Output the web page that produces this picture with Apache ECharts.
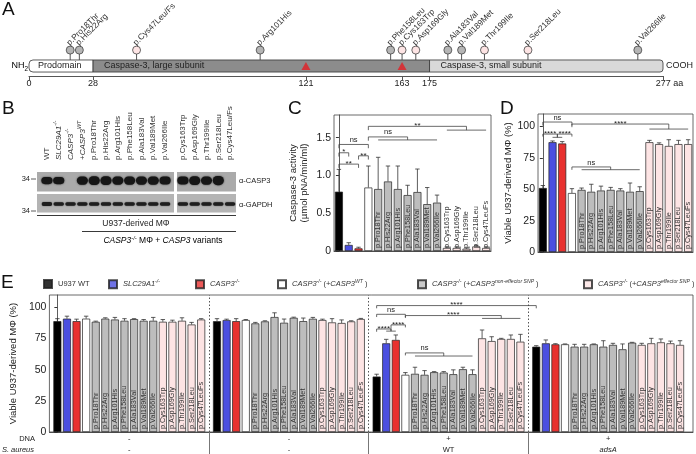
<!DOCTYPE html>
<html><head><meta charset="utf-8">
<script src="https://cdn.jsdelivr.net/npm/echarts@6/dist/echarts.min.js"></script>
<style>html,body{margin:0;padding:0;background:#fff}#c{width:696px;height:454px}</style>
</head><body><div id="c"></div>
<script>
const FONT = 'Liberation Sans, Arial, sans-serif';

// ---------- Panel A data ----------
const domainNames = ['Prodomain', 'Caspase-3, large subunit', 'Caspase-3, small subunit'];
const domainStarts = [0, 28, 175];
const domainEnds = [28, 175, 277];
const aaTicks = [0, 28, 121, 163, 175, 277];
const activeSites = [121, 163];
const variantNames = ['p.Pro18Thr','p.His22Arg','p.Cys47Leu/Fs','p.Arg101His','p.Phe158Leu','p.Cys163Trp','p.Asp169Gly','p.Ala183Val','p.Val189Met','p.Thr199Ile','p.Ser218Leu','p.Val266Ile'];
const variantPos = [18, 22, 47, 101, 158, 163, 169, 183, 189, 199, 218, 266];
const variantEffector = [0, 0, 1, 0, 0, 1, 1, 0, 0, 1, 1, 0];

// ---------- Panel B data ----------
const blot1Lanes = ['WT','SLC29A1-/-','CASP3-/-','+CASP3WT','p.Pro18Thr','p.His22Arg','p.Arg101His','p.Phe158Leu','p.Ala183Val','p.Val189Met','p.Val266Ile'];
const blot1Casp3 = [0.9, 0.9, 0, 1.05, 1.1, 1.1, 1.05, 1.05, 1.05, 1.05, 1.0];
const blot1Gapdh = [1, 0.9, 0.9, 0.95, 0.95, 0.9, 0.9, 0.9, 0.9, 0.9, 0.9];
const blot2Lanes = ['p.Cys163Trp','p.Asp169Gly','p.Thr199Ile','p.Ser218Leu','p.Cys47Leu/Fs'];
const blot2Casp3 = [1.0, 1.1, 1.05, 1.15, 0];
const blot2Gapdh = [0.9, 0.9, 0.9, 0.9, 0.95];

// ---------- Bar categories (C, D, E) ----------
const barGroups = ['wt','slc','casp','res','ne','ne','ne','ne','ne','ne','ne','ef','ef','ef','ef','ef'];
const barNames = ['U937 WT','SLC29A1-/-','CASP3-/-','CASP3WT','p.Pro18Thr','p.His22Arg','p.Arg101His','p.Phe158Leu','p.Ala183Val','p.Val189Met','p.Val266Ile','p.Cys163Trp','p.Asp169Gly','p.Thr199Ile','p.Ser218Leu','p.Cys47LeuFs'];

// ---------- Panel C ----------
const cValues = [0.785, 0.08, 0.035, 0.84, 0.82, 0.92, 0.82, 0.74, 0.78, 0.62, 0.64, 0.04, 0.04, 0.03, 0.06, 0.04];
const cErrors = [1.08, 0.11, 0.05, 1.125, 1.24, 1.125, 1.125, 0.87, 1.085, 0.84, 0.74, 0.055, 0.055, 0.04, 0.075, 0.055];
const cTicks = [0, 0.5, 1.0, 1.5];
// [x1, x2, y, yLeftEnd, yRightEnd, groupFrom, groupTo, text]
const cBrackets = [
  [0, 3, 1.41, 1.36, 1.36, null, null, 'ns'],
  [0, 1, 1.30, 1.25, 1.25, null, null, '*'],
  [2, 3, 1.26, 1.21, 1.21, null, null, '**'],
  [0, 2, 1.15, 1.10, 1.10, null, null, '**'],
  [3, 7, 1.51, 1.46, 1.47, 4, 10, 'ns'],
  [3, 13, 1.65, 1.60, 1.60, 11, 15, '**']
];

// ---------- Panel D ----------
const dValues = [51, 87.5, 86.5, 47, 49.5, 48, 49, 49.5, 49, 48, 48.5, 87.5, 86, 84.5, 86, 86];
const dErrors = [53, 88.5, 88, 50.5, 51, 54, 52.5, 51.5, 50.5, 55, 52, 89, 87, 89.5, 89, 89.5];
const pctTicks = [0, 25, 50, 75, 100];
const dBrackets = [
  [0, 3, 103.6, 100.8, 100.8, null, null, 'ns'],
  [0, 1.5, 94, 92, 91.4, 1, 2, '****'],
  [3, 1.5, 94, 92, 91.4, null, null, '****'],
  [3, 13, 102, 99.5, 98, 11, 15, '****'],
  [3, 7, 67.8, 65.5, 65.6, 4, 10, 'ns']
];

// ---------- Panel E ----------
const eNoDnaValues = [89, 91, 89, 91, 88.5, 91, 90.3, 89.3, 90.6, 89.3, 89.3, 88.5, 88.5, 89.3, 86.3, 90.3];
const eNoDnaErrors = [91, 93, 90.6, 93, 89, 91.7, 92, 91, 91, 90.3, 92, 90.3, 89.8, 91.7, 88, 91];
const eDnaValues = [89, 89.9, 89, 89.9, 87.2, 88.8, 92.3, 87.7, 91.7, 89, 90.9, 89.9, 88, 87.5, 88.8, 90.7];
const eDnaErrors = [91, 90.6, 91, 90.3, 88, 89.3, 95.7, 90.7, 92.2, 91.5, 92, 90.6, 91, 90, 89.3, 91.2];
const eWtValues = [44.5, 71.2, 73.9, 45.9, 46.7, 45.9, 48, 47.7, 46.4, 50.4, 46.4, 75.2, 73, 74.7, 74.7, 72.5];
const eWtErrors = [46.4, 74.4, 77.9, 47.7, 52, 49.3, 48.5, 48.5, 49.9, 52, 49.9, 81.9, 76.5, 75.2, 77.9, 78.4];
const eAdsValues = [68.5, 71.2, 70.4, 70.4, 68.5, 68.5, 70.4, 68.5, 69.9, 66.4, 71.7, 69.9, 71.2, 72, 71.2, 69.9];
const eAdsErrors = [69.3, 73.9, 70.9, 70.7, 70.4, 70.4, 70.7, 73.3, 71.2, 70.7, 72, 71.2, 75.2, 74.7, 73, 73.3];
const dnaLabels = ['-', '-', '+', '+'];
const aureusLabels = ['-', '-', 'WT', 'adsA'];
const E_STRIDE = 16.65; // layout spacing between condition groups (in bar slots)
const G3 = 2 * E_STRIDE, G4 = 3 * E_STRIDE;
const eBrackets = [
  [G3, G4, 101.5, 99.3, 99.3, null, null, '****'],
  [G3, G3 + 3, 94.5, 92.3, 92.3, null, null, 'ns'],
  [G3 + 3, G3 + 13, 93.5, 91.5, 91.2, G3 + 11, G3 + 15, '****'],
  [G3, G3 + 1.5, 82.7, 80.5, 81, G3 + 1, G3 + 2, '****'],
  [G3 + 3, G3 + 1.5, 86, 84, 81, null, null, '****'],
  [G3 + 3, G3 + 7, 63.5, 61.5, 61, G3 + 4, G3 + 10, 'ns']
];

// ---------- Legend ----------
const legendNames = ['U937 WT','SLC29A1 KO','CASP3 KO','CASP3 KO + CASP3 WT','CASP3 KO + non-effector SNP','CASP3 KO + effector SNP'];
const legendRich = [
  '{n|U937 WT}',
  '{i|SLC29A1}{s|-/-}',
  '{i|CASP3}{s|-/-}',
  '{i|CASP3}{s|-/-}{n| (+}{i|CASP3}{s|WT}{n| )}',
  '{i|CASP3}{s|-/-}{n| (+}{i|CASP3}{s|non-effector SNP}{n| )}',
  '{i|CASP3}{s|-/-}{n| (+}{i|CASP3}{s|effector SNP}{n| )}'
];
const legendLeft = [43, 108, 195, 277, 417, 583];

// ---------- styles ----------
const groupColors = {wt:'#000000', slc:'#4b4fe0', casp:'#e8312f', res:'#ffffff', ne:'#bdbdbd', ef:'#fde4e4'};
const legendColors = ['#000000','#4b4fe0','#e8312f','#ffffff','#bdbdbd','#fde4e4'];
const domainColors = ['#ffffff', '#8c8c8c', '#d9d9d9'];

function rich(fs) {
  return {
    n: {fontSize: fs, fontFamily: FONT, color: '#333', lineHeight: fs + 3},
    i: {fontSize: fs, fontFamily: FONT, fontStyle: 'italic', color: '#333', lineHeight: fs + 3},
    s: {fontSize: fs * 0.68, fontFamily: FONT, fontStyle: 'italic', color: '#333', verticalAlign: 'top', lineHeight: fs * 0.75},
    b: {fontSize: fs * 0.7, fontFamily: FONT, color: '#333', verticalAlign: 'bottom', lineHeight: fs * 0.75}
  };
}
function laneFmt(s) {
  if (s === 'SLC29A1-/-') return '{i|SLC29A1}{s|-/-}';
  if (s === 'CASP3-/-') return '{i|CASP3}{s|-/-}';
  if (s === '+CASP3WT') return '{n|+}{i|CASP3}{s|WT}';
  return '{n|' + s + '}';
}

function barItems(vals, offset) {
  return vals.map((v, i) => ({
    value: [offset + i, v], name: barNames[i],
    itemStyle: {color: groupColors[barGroups[i]]},
    label: {show: i >= 4}
  }));
}
function barSeries(ax, data) {
  return {
    type: 'bar', xAxisIndex: ax, yAxisIndex: ax, barWidth: 8, z: 3, silent: true,
    data: data,
    itemStyle: {borderColor: '#222', borderWidth: 0.7},
    label: {position: 'insideBottom', rotate: 90, align: 'left', verticalAlign: 'middle', distance: 3,
      fontSize: 7.3, fontFamily: FONT, color: '#333', formatter: p => p.name}
  };
}
function errSeries(ax, vals, errs, offset) {
  return {
    type: 'custom', xAxisIndex: ax, yAxisIndex: ax, z: 4, silent: true,
    encode: {x: 0, y: [1, 2]},
    data: vals.map((v, i) => [offset + i, v, errs[i]]),
    renderItem: (params, api) => {
      const x = api.value(0);
      const p1 = api.coord([x, api.value(1)]), p2 = api.coord([x, api.value(2)]);
      const st = {stroke: '#333', lineWidth: 0.8};
      return {type: 'group', children: [
        {type: 'line', shape: {x1: p1[0], y1: p1[1], x2: p2[0], y2: p2[1]}, style: st},
        {type: 'line', shape: {x1: p2[0] - 2.2, y1: p2[1], x2: p2[0] + 2.2, y2: p2[1]}, style: st}
      ]};
    }
  };
}
function bracketSeries(ax, list) {
  return {
    type: 'custom', xAxisIndex: ax, yAxisIndex: ax, z: 6, silent: true, clip: false,
    data: list.map(b => [b[0], b[2]]),
    renderItem: (params, api) => {
      const b = list[params.dataIndex];
      const a = api.coord([b[0], b[3]]), c = api.coord([b[0], b[2]]);
      const d = api.coord([b[1], b[2]]), e = api.coord([b[1], b[4]]);
      const st = {stroke: '#444', lineWidth: 0.8, fill: 'none'};
      const ch = [{type: 'polyline', shape: {points: [a, c, d, e]}, style: st}];
      if (b[5] != null) {
        const g1 = api.coord([b[5], b[4]]), g2 = api.coord([b[6], b[4]]);
        ch.push({type: 'line', shape: {x1: g1[0], y1: g1[1], x2: g2[0], y2: g2[1]}, style: st});
      }
      const star = b[7].indexOf('*') >= 0;
      ch.push({type: 'text', x: (c[0] + d[0]) / 2, y: c[1] + (star ? 3.5 : -0.5),
        style: {text: b[7], fontSize: star ? 8 : 7.5, fontFamily: FONT, fill: '#222', align: 'center', verticalAlign: 'bottom'}});
      return {type: 'group', children: ch};
    }
  };
}
function blotSeries(ax, casp, gap) {
  return {
    type: 'custom', xAxisIndex: ax, yAxisIndex: ax, z: 5, silent: true,
    data: casp.map((v, i) => [i, 1]),
    renderItem: (params, api) => {
      const i = params.dataIndex;
      const w = api.size([1, 0])[0];
      const c1 = api.coord([i, 1.58]), c2 = api.coord([i, 0.44]);
      const ch = [];
      if (casp[i] > 0) {
        const h = 8 * casp[i];
        ch.push({type: 'rect', shape: {x: c1[0] - w * 0.47, y: c1[1] - h / 2, width: w * 0.94, height: h, r: h / 2},
          style: {fill: '#161616', shadowBlur: 2, shadowColor: 'rgba(0,0,0,0.7)'}});
      }
      if (gap[i] > 0) {
        const h = 3.8 * gap[i];
        ch.push({type: 'rect', shape: {x: c2[0] - w * 0.44, y: c2[1] - h / 2, width: w * 0.88, height: h, r: h / 2},
          style: {fill: '#1e1e1e', shadowBlur: 1.5, shadowColor: 'rgba(0,0,0,0.6)'}});
      }
      return {type: 'group', children: ch};
    }
  };
}

const eAll = [eNoDnaValues, eDnaValues, eWtValues, eAdsValues];
const eAllErr = [eNoDnaErrors, eDnaErrors, eWtErrors, eAdsErrors];
const eDividers = [1, 2, 3].map(k => k * E_STRIDE - (E_STRIDE - 15) / 2);
const eGroupCenters = [0, 1, 2, 3].map(g => g * E_STRIDE + 7.5);
let eBarData = [];
eAll.forEach((vals, g) => { eBarData = eBarData.concat(barItems(vals, g * E_STRIDE)); });
const eBar = barSeries(5, eBarData);
eBar.markLine = {silent: true, symbol: 'none', label: {show: false},
  lineStyle: {type: [1.5, 2], color: '#555', width: 1},
  data: eDividers.map(v => ({xAxis: v}))};
const eSeries = [eBar];
eAll.forEach((vals, g) => eSeries.push(errSeries(5, vals, eAllErr[g], g * E_STRIDE)));

const yPct = (gi) => ({
  gridIndex: gi, type: 'value', min: 0, max: 110,
  axisLine: {show: true, lineStyle: {color: '#333', width: 0.8}},
  axisTick: {show: true, length: 3, customValues: pctTicks, lineStyle: {color: '#333'}},
  axisLabel: {customValues: pctTicks, fontSize: 10.5, color: '#222', margin: 3, fontFamily: FONT},
  splitLine: {show: false},
  name: 'Viable U937-derived M\u03a6 (%)', nameLocation: 'middle', nameRotate: 90, nameGap: 24,
  nameTextStyle: {fontSize: 9.5, color: '#222', fontFamily: FONT}
});
const xBars = (gi, min, max) => ({
  gridIndex: gi, type: 'value', min: min, max: max,
  axisLine: {show: true, lineStyle: {color: '#333', width: 0.8}},
  axisTick: {show: false}, axisLabel: {show: false}, splitLine: {show: false}
});

const eX = xBars(5, -0.83, 66.3);
eX.axisTick = {show: true, customValues: eDividers, length: 22, lineStyle: {color: '#777', width: 1}};
eX.axisLabel = {show: true, customValues: eGroupCenters, margin: 1, interval: 0,
  formatter: v => {
    const g = Math.round((v - 7.5) / E_STRIDE);
    const b = aureusLabels[g] === 'adsA' ? '{bi|' + aureusLabels[g] + '}' : '{bn|' + aureusLabels[g] + '}';
    return '{bn|' + dnaLabels[g] + '}\n' + b;
  },
  rich: {bn: {fontSize: 7.5, fontFamily: FONT, color: '#222', lineHeight: 11},
         bi: {fontSize: 7.5, fontFamily: FONT, color: '#222', fontStyle: 'italic', lineHeight: 11}}};

const option = {
  animation: false,
  backgroundColor: '#fff',
  textStyle: {fontFamily: FONT},
  legend: legendNames.map((n, k) => ({
    left: legendLeft[k], top: 279, itemWidth: 8, itemHeight: 8, itemGap: 4, icon: 'rect',
    selectedMode: false, data: [n], padding: 0,
    formatter: name => legendRich[legendNames.indexOf(name)],
    textStyle: {rich: rich(7.5), fontSize: 7.5, color: '#333', padding: [0, 0, 0, 1]}
  })),
  grid: [
    {left: 29, right: 33, top: 40, bottom: 378},
    {left: 41, width: 130, top: 172, height: 41},
    {left: 177, width: 59, top: 172, height: 41},
    {left: 334, width: 157, top: 115, height: 136, show: true, borderColor: '#444', borderWidth: 0.8},
    {left: 538, width: 155, top: 114, height: 138, show: true, borderColor: '#444', borderWidth: 0.8},
    {left: 43, width: 650, top: 295, height: 137, show: true, borderColor: '#444', borderWidth: 0.8}
  ],
  xAxis: [
    {gridIndex: 0, type: 'value', min: 0, max: 277,
      axisLine: {show: true, lineStyle: {color: '#555', width: 1}},
      axisTick: {show: true, customValues: aaTicks, length: 4, lineStyle: {color: '#555'}},
      axisLabel: {customValues: aaTicks, fontSize: 9, color: '#222', margin: 3, fontFamily: FONT,
        formatter: v => v === 277 ? '{m|277 aa}' : String(v), rich: {m: {fontSize: 9, color: '#222', padding: [0, 0, 0, 13]}}},
      splitLine: {show: false}},
    {gridIndex: 1, type: 'category', data: blot1Lanes, position: 'top',
      axisLine: {show: false}, axisTick: {show: false},
      axisLabel: {interval: 0, rotate: 90, margin: 12, formatter: laneFmt, rich: rich(8)}},
    {gridIndex: 2, type: 'category', data: blot2Lanes, position: 'top',
      axisLine: {show: false}, axisTick: {show: false},
      axisLabel: {interval: 0, rotate: 90, margin: 12, formatter: laneFmt, rich: rich(8)}},
    xBars(3, -0.5, 15.5),
    xBars(4, -0.5, 15.5),
    eX
  ],
  yAxis: [
    {gridIndex: 0, type: 'value', min: 0, max: 10, show: false},
    {gridIndex: 1, type: 'value', min: 0, max: 2, show: false},
    {gridIndex: 2, type: 'value', min: 0, max: 2, show: false},
    {gridIndex: 3, type: 'value', min: 0, max: 1.8,
      axisLine: {show: true, lineStyle: {color: '#333', width: 0.8}},
      axisTick: {show: true, length: 3, customValues: cTicks, lineStyle: {color: '#333'}},
      axisLabel: {customValues: cTicks, fontSize: 10.5, color: '#222', margin: 3, fontFamily: FONT,
        formatter: v => v === 0 ? '0' : v.toFixed(1)},
      splitLine: {show: false},
      name: 'Caspase-3 activity\n(\u00b5mol pNA/min/ml)', nameLocation: 'middle', nameRotate: 90, nameGap: 24,
      nameTextStyle: {fontSize: 9.5, color: '#222', lineHeight: 11, fontFamily: FONT}},
    yPct(4),
    Object.assign(yPct(5), {nameGap: 22})
  ],
  series: [
    // Panel A: domains
    {type: 'custom', xAxisIndex: 0, yAxisIndex: 0, z: 3, silent: true,
      encode: {x: [0, 1]},
      data: domainStarts.map((s, i) => [s, domainEnds[i]]),
      renderItem: (params, api) => {
        const i = params.dataIndex;
        const p1 = api.coord([api.value(0), 4.45]), p2 = api.coord([api.value(1), 1.1]);
        return {type: 'group', children: [
          {type: 'rect', shape: {x: p1[0], y: p1[1], width: p2[0] - p1[0], height: p2[1] - p1[1],
            r: i === 0 ? [4, 0, 0, 4] : (i === 2 ? [0, 3, 3, 0] : 0)},
            style: {fill: domainColors[i], stroke: '#333', lineWidth: 0.8}},
          {type: 'text', x: p1[0] + (i === 0 ? 9 : 11), y: (p1[1] + p2[1]) / 2,
            style: {text: domainNames[i], fontSize: 9, fontFamily: FONT, fill: '#222', align: 'left', verticalAlign: 'middle'}}
        ]};
      }},
    // Panel A: variants (lollipops)
    {type: 'custom', xAxisIndex: 0, yAxisIndex: 0, z: 4, silent: true, clip: false,
      data: variantPos.map(p => [p, 7.2]),
      renderItem: (params, api) => {
        const i = params.dataIndex;
        const c = api.coord([api.value(0), api.value(1)]);
        const base = api.coord([api.value(0), 4.45]);
        return {type: 'group', children: [
          {type: 'line', shape: {x1: c[0], y1: base[1], x2: c[0], y2: c[1]}, style: {stroke: '#444', lineWidth: 0.9}},
          {type: 'circle', shape: {cx: c[0], cy: c[1], r: 4}, style: {fill: variantEffector[i] ? '#fde4e4' : '#b5b5b5', stroke: '#444', lineWidth: 0.8}},
          {type: 'text', x: c[0] - 2, y: c[1] - 6, rotation: Math.PI / 4,
            style: {text: variantNames[i], fontSize: 8.3, fontFamily: FONT, fill: '#333', align: 'left', verticalAlign: 'middle'}}
        ]};
      }},
    // Panel A: active sites
    {type: 'scatter', xAxisIndex: 0, yAxisIndex: 0, z: 5, silent: true, symbol: 'triangle', symbolSize: [9, 8],
      itemStyle: {color: '#e31e24'}, data: activeSites.map(p => [p, 2.75])},
    // Panel B
    blotSeries(1, blot1Casp3, blot1Gapdh),
    blotSeries(2, blot2Casp3, blot2Gapdh),
    // Panel C
    barSeries(3, barItems(cValues, 0)), errSeries(3, cValues, cErrors, 0), bracketSeries(3, cBrackets),
    // Panel D
    barSeries(4, barItems(dValues, 0)), errSeries(4, dValues, dErrors, 0), bracketSeries(4, dBrackets),
    // Panel E
    ...eSeries, bracketSeries(5, eBrackets),
    // legend entries
    ...legendNames.map((n, k) => ({type: 'scatter', name: n, xAxisIndex: 5, yAxisIndex: 5, data: [],
      itemStyle: {color: legendColors[k], borderColor: '#222', borderWidth: 0.8}}))
  ],
  graphic: {elements: [
    {type: 'text', x: 2, y: 0, style: {text: 'A', fontSize: 19, fontFamily: FONT, fill: '#111'}},
    {type: 'text', x: 2, y: 99, style: {text: 'B', fontSize: 19, fontFamily: FONT, fill: '#111'}},
    {type: 'text', x: 288, y: 99, style: {text: 'C', fontSize: 19, fontFamily: FONT, fill: '#111'}},
    {type: 'text', x: 500, y: 99, style: {text: 'D', fontSize: 19, fontFamily: FONT, fill: '#111'}},
    {type: 'text', x: 1, y: 273, style: {text: 'E', fontSize: 19, fontFamily: FONT, fill: '#111'}},
    // panel A end labels
    {type: 'text', x: 28, y: 66, style: {text: '{n|NH}{b|2}', rich: rich(9), align: 'right', verticalAlign: 'middle'}},
    {type: 'text', x: 666, y: 66, style: {text: 'COOH', fontSize: 9, fontFamily: FONT, fill: '#222', verticalAlign: 'middle'}},
    // panel B membranes
    {type: 'rect', z: 0, shape: {x: 37, y: 172, width: 137, height: 19.5}, style: {fill: '#aaaaaa'}},
    {type: 'rect', z: 0, shape: {x: 177, y: 172, width: 59, height: 19.5}, style: {fill: '#aaaaaa'}},
    {type: 'rect', z: 0, shape: {x: 37, y: 194, width: 137, height: 18.5}, style: {fill: '#b4b4b4'}},
    {type: 'rect', z: 0, shape: {x: 177, y: 194, width: 59, height: 18.5}, style: {fill: '#b4b4b4'}},
    {type: 'text', x: 30, y: 179, style: {text: '34', fontSize: 7.5, fontFamily: FONT, fill: '#222', align: 'right', verticalAlign: 'middle'}},
    {type: 'line', shape: {x1: 31, y1: 179, x2: 36, y2: 179}, style: {stroke: '#333', lineWidth: 0.8}},
    {type: 'text', x: 30, y: 211, style: {text: '34', fontSize: 7.5, fontFamily: FONT, fill: '#222', align: 'right', verticalAlign: 'middle'}},
    {type: 'line', shape: {x1: 31, y1: 211, x2: 36, y2: 211}, style: {stroke: '#333', lineWidth: 0.8}},
    {type: 'text', x: 239, y: 181, style: {text: '\u03b1-CASP3', fontSize: 7.5, fontFamily: FONT, fill: '#222', verticalAlign: 'middle'}},
    {type: 'text', x: 239, y: 205, style: {text: '\u03b1-GAPDH', fontSize: 7.5, fontFamily: FONT, fill: '#222', verticalAlign: 'middle'}},
    {type: 'line', shape: {x1: 37, y1: 215.5, x2: 236, y2: 215.5}, style: {stroke: '#222', lineWidth: 0.9}},
    {type: 'text', x: 136, y: 224, style: {text: 'U937-derived M\u03a6', fontSize: 8.5, fontFamily: FONT, fill: '#222', align: 'center', verticalAlign: 'middle'}},
    {type: 'line', shape: {x1: 82, y1: 231.5, x2: 236, y2: 231.5}, style: {stroke: '#222', lineWidth: 0.9}},
    {type: 'text', x: 163, y: 241, style: {text: '{i|CASP3}{s|-/-}{n| M\u03a6 + }{i|CASP3}{n| variants}', rich: rich(8.5), align: 'center', verticalAlign: 'middle'}},
    // panel E row titles
    {type: 'text', x: 35, y: 438.5, style: {text: 'DNA', fontSize: 7.5, fontFamily: FONT, fill: '#222', align: 'right', verticalAlign: 'middle'}},
    {type: 'text', x: 34, y: 449.5, style: {text: 'S. aureus', fontSize: 7.5, fontStyle: 'italic', fontFamily: FONT, fill: '#222', align: 'right', verticalAlign: 'middle'}}
  ]}
};
const chart = echarts.init(document.getElementById('c'));
chart.setOption(option);
</script>
</body></html>
